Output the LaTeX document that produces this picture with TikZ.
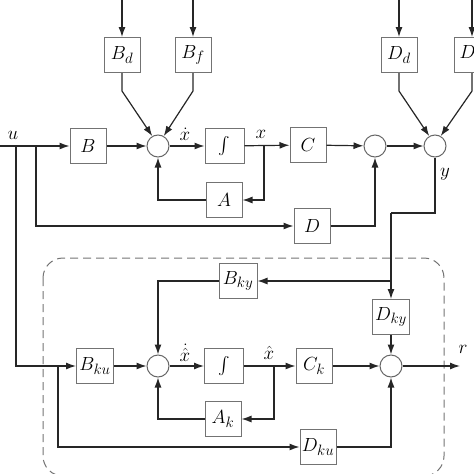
\RequirePackage{fix-cm}
\documentclass[tikz,border=0pt]{standalone}
\usepackage{amsmath}
\usetikzlibrary{arrows.meta}
\DeclareMathSizes{19}{19}{15}{11}
\begin{document}
\begin{tikzpicture}[x=1pt,y=-1pt,
  font=\fontsize{19}{22}\selectfont,
  blk/.style={draw=black!55, line width=1pt, minimum width=36pt, minimum height=35pt, inner sep=0pt, fill=white},
  intblk/.style={blk, minimum width=39pt},
  sumc/.style={circle, draw=black!60, line width=1pt, minimum size=22pt, inner sep=0pt, fill=white},
  conn/.style={line width=1.2pt, draw=black!85},
  arr/.style={conn, -{Latex[length=10pt,width=7pt]}},
  lbl/.style={inner sep=0pt}]
\useasboundingbox (0,0) rectangle (474,474);
% dashed frame
\draw[draw=black!55, line width=1pt, rounded corners=20pt, dash pattern=on 8pt off 5pt] (43,258) rectangle (444,476);
% blocks
\node[blk] (Bd) at (122,55) {$B_d$};
\node[blk] (Bf) at (193,55) {$B_f$};
\node[blk] (Dd) at (399,55) {$D_d$};
\node[blk] (Df) at (472,55) {$D_f$};
\node[blk] (B) at (88,146) {$B$};
\node[sumc] (s1) at (158,146) {};
\node[intblk] (I1) at (224.5,146) {$\int$};
\node[blk] (A) at (224,200) {$A$};
\node[blk] (C) at (308,145) {$C$};
\node[sumc] (s2) at (375,146) {};
\node[sumc] (s3) at (435,146) {};
\node[blk] (D) at (312,226) {$D$};
\node[blk, minimum width=38pt] (Bky) at (238,281) {$B_{ky}$};
\node[blk, minimum width=37pt] (Dky) at (391,317) {$D_{ky}$};
\node[blk, minimum width=37pt] (Bku) at (95,366) {$B_{ku}$};
\node[sumc] (s4) at (158,366) {};
\node[intblk] (I2) at (224,366) {$\int$};
\node[blk] (Ak) at (223,419) {$A_k$};
\node[blk] (Ck) at (314,366) {$C_k$};
\node[sumc] (s5) at (391,366) {};
\node[blk] (Dku) at (318,447) {$D_{ku}$};
% coordinates
\coordinate (uin) at (0,146);
\coordinate (j1) at (16,146);
\coordinate (j2) at (36,146);
\coordinate (j3) at (58,366);
\coordinate (tBd) at (122,0);
\coordinate (tBf) at (193,0);
\coordinate (tDd) at (399,0);
\coordinate (tDf) at (472,0);
\coordinate (jx) at (264,146);
\coordinate (jy1) at (391,213);
\coordinate (jy2) at (391,281);
\coordinate (jxh) at (274,366);
\coordinate (rout) at (460,366);
% labels
\node[lbl] (lu) at (13,135) {$u$};
\node[lbl] (lxd) at (185,134) {$\dot x$};
\node[lbl] (lx) at (261,134) {$x$};
\node[lbl] (ly) at (445,174) {$y$};
\node[lbl] (lxhd) at (185,353) {$\dot{\hat x}$};
\node[lbl] (lxh) at (269,353) {$\hat x$};
\node[lbl] (lr) at (463,349) {$r$};
% connectors
\draw[arr] (tBd) -- (Bd);
\draw[arr] (tBf) -- (Bf);
\draw[arr] (tDd) -- (Dd);
\draw[arr] (tDf) -- (Df);
\draw[arr] (uin) -- (B);
\draw[arr] (j1) |- (Bku.west);
\draw[arr] (j2) |- (D.west);
\draw[arr] (j3) |- (Dku.west);
\draw[arr] (B) -- (s1);
\draw[arr] (Bd.south) -- ++(0,18) -- (s1.120);
\draw[arr] (Bf.south) -- ++(0,18) -- (s1.60);
\draw[arr] (Dd.south) -- ++(0,18) -- (s3.120);
\draw[arr] (Df.south) -- ++(0,18) -- (s3.60);
\draw[arr] (s1) -- (I1);
\draw[arr] (I1) -- (C);
\draw[arr] (jx) |- (A.east);
\draw[arr] (A.west) -| (s1.south);
\draw[arr] (C) -- (s2);
\draw[arr] (D.east) -| (s2.south);
\draw[arr] (s2) -- (s3);
\draw[conn] (s3.south) |- (jy1);
\draw[arr] (jy1) -- (Dky.north);
\draw[arr] (jy2) -- (Bky.east);
\draw[arr] (Bky.west) -| (s4.north);
\draw[arr] (Bku) -- (s4);
\draw[arr] (s4) -- (I2);
\draw[arr] (I2) -- (Ck);
\draw[arr] (jxh) |- (Ak.east);
\draw[arr] (Ak.west) -| (s4.south);
\draw[arr] (Ck) -- (s5);
\draw[arr] (Dky) -- (s5);
\draw[arr] (Dku.east) -| (s5.south);
\draw[arr] (s5) -- (rout);
\end{tikzpicture}
\end{document}
